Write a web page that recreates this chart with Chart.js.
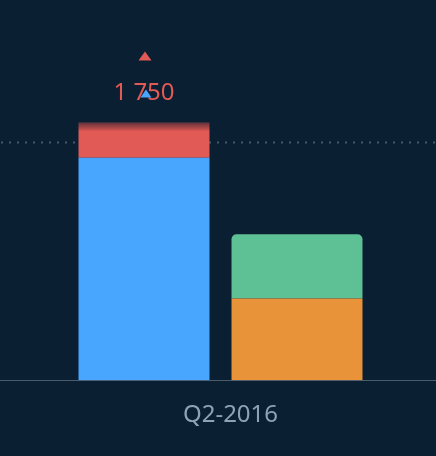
<!DOCTYPE html>
<html>
<head>
<meta charset="utf-8">
<script src="https://cdn.jsdelivr.net/npm/chart.js@4.4.1/dist/chart.umd.min.js"></script>
<style>
  html, body { margin: 0; padding: 0; background: #0b1f32; }
  #wrap { width: 436px; height: 456px; position: relative; }
</style>
</head>
<body>
<div id="wrap"><canvas id="chart"></canvas></div>
<script>
const categorias = ['Q2-2016'];
const serieAzul = [1510];
const serieRoja = [240];
const serieNaranja = [555];
const serieVerde = [435];
const lineaObjetivo = 1615;
const marcadorAlto = 2200;
const marcadorMedio = 1945;
const ejeMax = 2580;

const ROJO = '#e25a55';

const $ = (id) => document.getElementById(id);

function formatear(n) {
  return String(n).replace(/\B(?=(\d{3})+(?!\d))/g, ' ');
}

function rojoDegradado(ctx) {
  const chart = ctx.chart;
  if (!chart.chartArea || !chart.scales.y) return ROJO;
  const i = ctx.dataIndex || 0;
  const top = chart.scales.y.getPixelForValue(serieAzul[i] + serieRoja[i]);
  const g = chart.ctx.createLinearGradient(0, top - 2, 0, top + 9);
  g.addColorStop(0, 'rgba(226,90,85,0)');
  g.addColorStop(0.4, 'rgba(170,70,68,0.75)');
  g.addColorStop(1, ROJO);
  return g;
}

function triangulo(ctx, x, y, ancho, alto, color) {
  ctx.beginPath();
  ctx.moveTo(x, y - alto / 2);
  ctx.lineTo(x + ancho / 2, y + alto / 2);
  ctx.lineTo(x - ancho / 2, y + alto / 2);
  ctx.closePath();
  ctx.fillStyle = color;
  ctx.fill();
}

const lineaPunteada = {
  id: 'lineaPunteada',
  beforeDatasetsDraw(chart) {
    const { ctx, chartArea, scales } = chart;
    const y = Math.round(scales.y.getPixelForValue(lineaObjetivo)) + 0.5;
    ctx.save();
    ctx.strokeStyle = '#435a6e';
    ctx.lineWidth = 2;
    ctx.setLineDash([2, 6]);
    ctx.beginPath();
    ctx.moveTo(chartArea.left - 4, y);
    ctx.lineTo(chartArea.right, y);
    ctx.stroke();
    // el eje llega hasta el borde izquierdo
    ctx.setLineDash([]);
    ctx.lineWidth = 1;
    ctx.strokeStyle = '#4b5d6c';
    const yEje = Math.round(chartArea.bottom) + 0.5;
    ctx.beginPath();
    ctx.moveTo(0, yEje);
    ctx.lineTo(chartArea.left, yEje);
    ctx.stroke();
    ctx.restore();
  },
};

const etiquetaTotal = {
  id: 'etiquetaTotal',
  afterDatasetsDraw(chart) {
    const { ctx, scales } = chart;
    const barra = chart.getDatasetMeta(0).data[0];
    const x = barra.x;
    const total = serieAzul[0] + serieRoja[0];
    const yTop = scales.y.getPixelForValue(total);
    ctx.save();
    ctx.font = '24px "Noto Sans"';
    ctx.fillStyle = ROJO;
    ctx.textAlign = 'center';
    ctx.textBaseline = 'alphabetic';
    ctx.fillText(formatear(total), x, yTop - 22);
    triangulo(ctx, x + 1, scales.y.getPixelForValue(marcadorAlto), 13, 9, ROJO);
    triangulo(ctx, x + 2, scales.y.getPixelForValue(marcadorMedio), 11, 8, '#48a6fe');
    ctx.restore();
  },
};

new Chart($('chart').getContext('2d'), {
  type: 'bar',
  data: {
    labels: categorias,
    datasets: [
      { label: 'Azul', data: serieAzul, stack: 'a', backgroundColor: '#48a6fe' },
      { label: 'Roja', data: serieRoja, stack: 'a', backgroundColor: rojoDegradado },
      { label: 'Naranja', data: serieNaranja, stack: 'b', backgroundColor: '#e8923a' },
      {
        label: 'Verde', data: serieVerde, stack: 'b', backgroundColor: '#5ec195',
        borderSkipped: false,
        borderRadius: { topLeft: 5, topRight: 5, bottomLeft: 0, bottomRight: 0 },
      },
    ],
  },
  options: {
    responsive: true,
    maintainAspectRatio: false,
    animation: false,
    categoryPercentage: 0.71,
    barPercentage: 0.856,
    layout: { padding: { top: 0, left: 5, right: 0, bottom: 13 } },
    plugins: { legend: { display: false }, tooltip: { enabled: false } },
    scales: {
      x: {
        stacked: true,
        grid: { display: false },
        border: { display: true, color: '#4b5d6c', width: 1 },
        ticks: {
          color: '#8ea2b2', padding: 13, labelOffset: 10,
          font: { family: 'Noto Sans', size: 24 },
        },
      },
      y: { stacked: true, display: false, min: 0, max: ejeMax },
    },
  },
  plugins: [lineaPunteada, etiquetaTotal],
});
</script>
</body>
</html>
